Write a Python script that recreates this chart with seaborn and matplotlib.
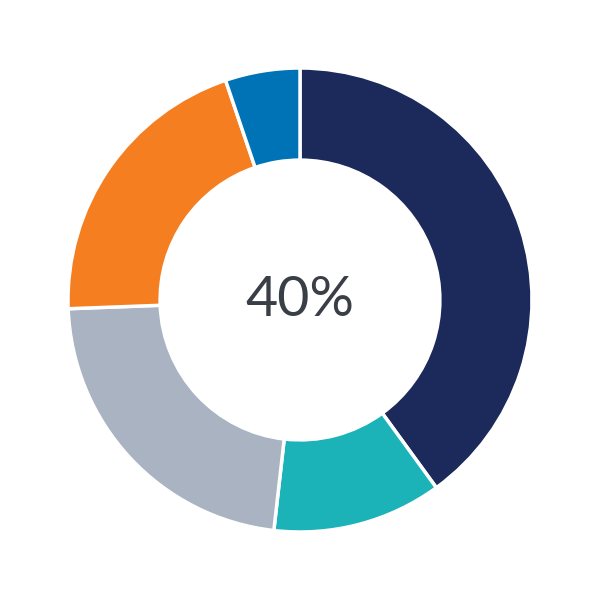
import matplotlib
matplotlib.use("Agg")
import matplotlib.pyplot as plt
import seaborn as sns

# Slice shares (percent), clockwise from the top
segments = ["Navy", "Teal", "Gray", "Orange", "Blue"]
shares = [40, 11.8, 22.6, 20.4, 5.2]
colors = ["#1b2a5b", "#1bb3b8", "#a9b3c1", "#f47e20", "#0073b6"]
center_label = "40%"

sns.set_theme(style="white")
plt.rcParams['font.family'] = ['Lato', 'DejaVu Sans']

fig = plt.figure(figsize=(6, 6), dpi=100)
ax = fig.add_axes([0, 0, 1, 1])

ax.pie(shares, colors=colors, startangle=90, counterclock=False,
       radius=1.0,
       wedgeprops={'width': 0.397, 'edgecolor': 'white', 'linewidth': 2.5})

ax.text(0, 0, center_label, ha='center', va='center', fontsize=40,
        color='#3a3f47')

lim = 300 / 232
ax.set_xlim(-lim, lim)
ax.set_ylim(-lim, lim)
ax.set_aspect('equal')
ax.axis('off')

fig.savefig('out.png', dpi=100, facecolor='white')
